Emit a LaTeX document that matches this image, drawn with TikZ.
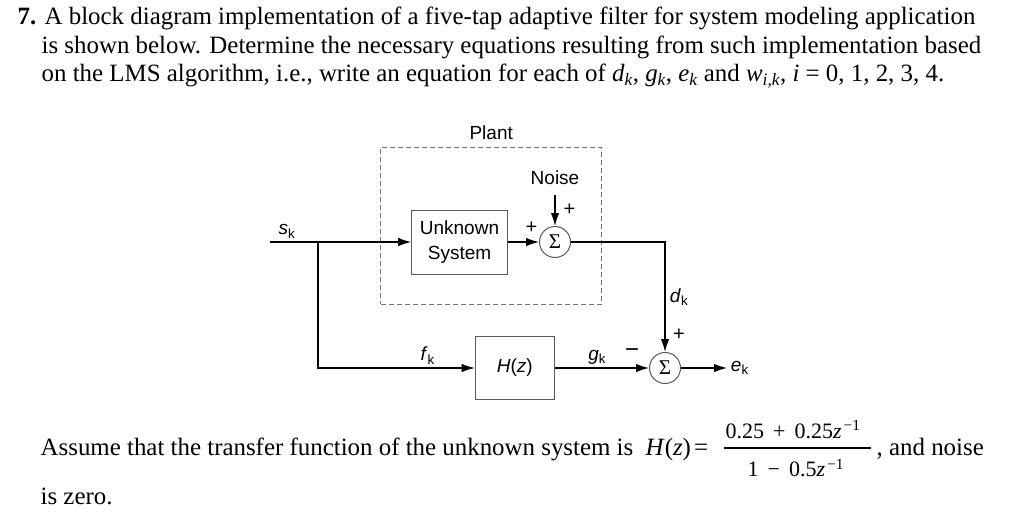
\documentclass[tikz,border=0pt]{standalone}
\usepackage{fontspec}
\setmainfont{Liberation Serif}
\setsansfont{Liberation Sans}
\usepackage{tikz}
\usetikzlibrary{positioning}
\usetikzlibrary{arrows.meta}
\newcommand{\zinv}{\textit{z}\hspace{2pt}\textsuperscript{−1}}

\begin{document}
\begin{tikzpicture}[
            x = 1pt, y = -1pt, % pixel grid, y downwards
            > = {Latex[length=13pt, width=8.5pt]}, % arrow head style
            auto,
            line width = 1.3pt, % line style
            font = \sffamily\fontsize{19}{23}\selectfont
        ]

        \tikzstyle{block}=[
            draw = black!65,
            line width = 1pt,
            align = center,
            inner sep = 0pt
        ]
        \tikzstyle{sum}=[
            circle,
            draw = black!65,
            line width = 1pt,
            minimum size = 31pt,
            inner sep = 0pt,
            font = \rmfamily\fontsize{21}{21}\selectfont
        ]
        \tikzstyle{sign}=[
            font = \sffamily\fontsize{20}{20}\selectfont,
            inner sep = 1pt
        ]
        \tikzstyle{para}=[
            font = \rmfamily\fontsize{24.9}{28}\selectfont,
            anchor = base west,
            inner sep = 0pt
        ]
        \tikzstyle{fracpart}=[
            font = \rmfamily\fontsize{22}{22}\selectfont,
            anchor = base west,
            inner sep = 0pt
        ]
        \tikzstyle{plantbox}=[
            draw = black!55,
            line width = 1pt,
            dash pattern = on 5pt off 3pt,
            inner sep = 0pt
        ]

        \useasboundingbox (0,0) rectangle (1024,524);

	% question
        \node[para] (Q1) at (17,25) {\textbf{7.} A block diagram implementation of a five-tap adaptive filter for system modeling application};
        \node[para] (Q2) at (41,54) {is shown below. Determine the necessary equations resulting from such implementation based};
        \node[para] (Q3) at (41,82) {on the LMS algorithm, i.e., write an equation for each of \textit{d\textsubscript{k}}, \textit{g\textsubscript{k}}, \textit{e\textsubscript{k}} and \textit{w\textsubscript{i,k}}, \textit{i} = 0, 1, 2, 3, 4.};

        % plant
        \node[plantbox, minimum width = 221pt, minimum height = 156.7pt] (PL) at (491.2,225.65) {};
        \node (PLT) [above of = PL, node distance = 92.6pt] {Plant};

        \node[block, minimum width = 95.6pt, minimum height = 64pt, font = \sffamily\fontsize{19}{25}\selectfont] (US) at (459.5,242) {Unknown\\System};
        \node[sum] (S1) [right of = US, node distance = 95.5pt] {Σ};
        \node[inner sep = 9pt] (NO) [above of = S1, node distance = 64pt] {Noise};

        % adaptive filter side
        \node[block, minimum width = 79pt, minimum height = 63.5pt] (HZ) at (514.7,368) {\textit{H}(\textit{z})};
        \node[sum] (S2) [right of = HZ, node distance = 150.3pt] {Σ};
        \node[anchor = west] (EK) at (727,368) {\textit{e}\textsubscript{k}};

        \coordinate (IN) at (270,242);
        \coordinate (BR) at (318,242);

        \draw[->] (IN) -- node[pos = 0.12, above] {\textit{s}\textsubscript{k}} (US);
        \draw[->] (BR) |- node[pos = 0.85, above] {\textit{f}\textsubscript{k}} (HZ);
        \draw[->] (US) -- node[sign, pos = 0.76, above = 7pt] {+} (S1);
        \draw[->] (NO) -- node[sign, pos = 0.49, right = 7pt] {+} (S1);
        \draw[->] (S1) -| node[pos = 0.75, right = 1pt] {\textit{d}\textsubscript{k}}
                          node[sign, pos = 0.92, right = 6.5pt] {+} (S2);
        \draw[->] (HZ) -- node[pos = 0.45, above] {\textit{g}\textsubscript{k}}
                          node[sign, pos = 0.82, above = 9pt] {\fontsize{24}{24}\selectfont −} (S2);
        \draw[->] (S2) -- (EK);

        % assumption
        \node[para] (A1) at (40,455) {Assume that the transfer function of the unknown system is};
        \node[para] (HZE) at (645,455) {\textit{H}(\textit{z})\hspace{3pt}=};
        \node[fracpart] (NUM) at (725,438.3) {0.25\hspace{9pt}+\hspace{9pt}0.25\zinv};
        \node[fracpart] (DEN) at (747,476.7) {1\hspace{9pt}−\hspace{9pt}0.5\zinv};
        \coordinate (FB1) at (724,448);
        \coordinate (FB2) at (871,448);
        \draw[line width = 1.2pt] (FB1) -- (FB2);
        \node[para] (A2) at (876,455) {, and noise};
        \node[para] (A3) at (40,504) {is zero.};

  \end{tikzpicture}
\end{document}
